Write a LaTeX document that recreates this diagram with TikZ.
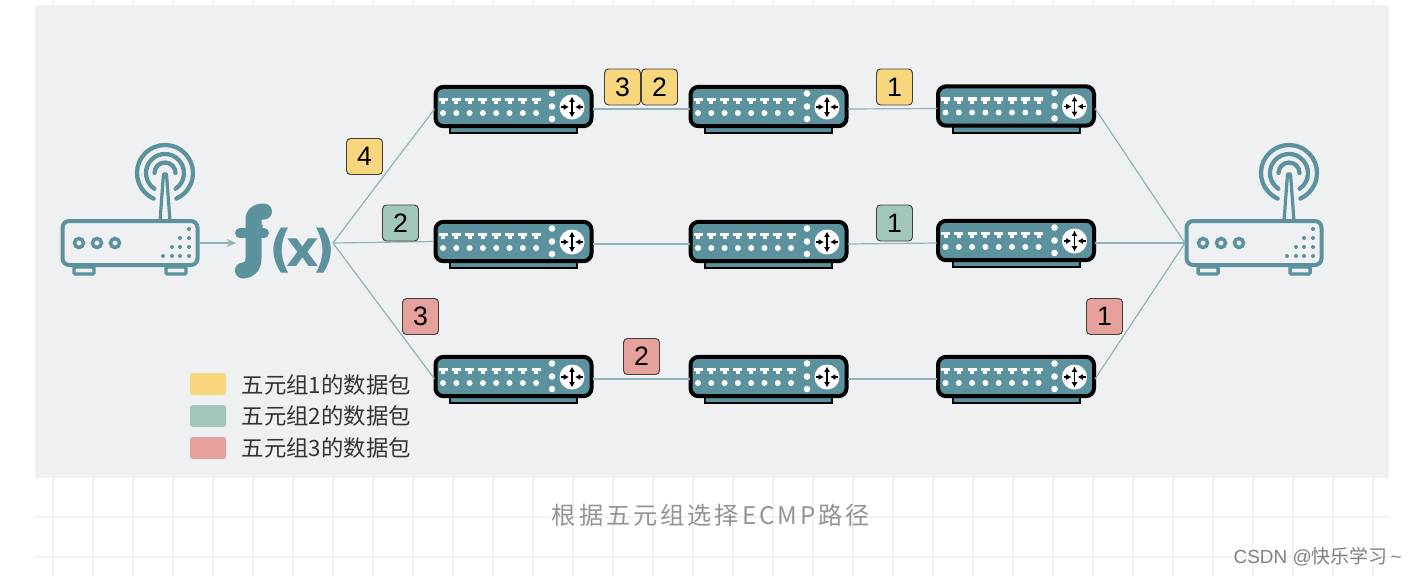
\documentclass[tikz,border=0pt]{standalone}
\usepackage{fontspec}
\setmainfont{Liberation Sans}
\newfontfamily\cjk{Noto Sans CJK SC}
\newfontfamily\fxfont{DejaVu Sans}
\usetikzlibrary{arrows.meta}
\definecolor{teal1}{HTML}{5B929E}
\definecolor{linec}{HTML}{8FB3BB}
\definecolor{bgc}{HTML}{EFF0F2}
\definecolor{gridc}{HTML}{F3F2F3}
\definecolor{pkty}{HTML}{F8D67E}
\definecolor{pktg}{HTML}{A3C6BC}
\definecolor{pktr}{HTML}{E6A19C}
\tikzset{
  x=0.75pt,y=-0.75pt,
  link/.style={draw=linec,line width=0.9pt},
  pkt/.style={draw=black!75,line width=0.7pt,rounded corners=3pt,minimum width=27pt,minimum height=27pt,inner sep=0pt,font=\fontsize{20}{20}\selectfont,text=black},
  swbody/.style={draw=black,line width=3pt,fill=teal1,rounded corners=6pt,minimum width=117pt,minimum height=29.5pt,inner sep=0pt},
  legtext/.style={anchor=west,inner sep=0pt,font=\cjk\fontsize{16.8}{18}\selectfont,text=black!80},
  swatch/.style={fill=#1,rounded corners=2pt,minimum width=27pt,minimum height=16.5pt,inner sep=0pt},
  routerbox/.style={draw=teal1,line width=3pt,fill=bgc,rounded corners=5pt,minimum width=101.25pt,minimum height=33pt,inner sep=0pt},
  fxtext/.style={text=teal1,inner sep=0pt},
  swhead/.style={black,line width=1.1pt},
  sw/.pic={
    \fill[black] (-64.5,20) rectangle (64.5,27.5);
    \fill[teal1] (-62.5,20) rectangle (62.5,25.5);
    \node[swbody] (-box) at (0,0) {};
    \coordinate (-w) at (-79,2.5);
    \coordinate (-e) at (79,2.5);
    \foreach \i in {0,...,7}{
      \fill[white] (-70.5+13.3*\i-4.5,-9) rectangle (-70.5+13.3*\i+4.5,-5.5);
      \fill[white] (-70.5+13.3*\i-2,-6) rectangle (-70.5+13.3*\i+2,-2.5);
      \fill[white] (-70.5+13.3*\i,6.5) circle[radius=3];
    }
    \foreach \yy in {-13,0,12.5}{\fill[white] (38.5,\yy) circle[radius=3.3];}
    \fill[white] (58.5,0.5) circle[radius=12.5];
    \draw[swhead,{Latex[length=4pt,width=4.5pt]}-{Latex[length=4pt,width=4.5pt]}] (58.5,-10) -- (58.5,11);
    \draw[swhead,-{Latex[length=4pt,width=4.5pt]}] (47.5,0.5) -- (55.5,0.5);
    \draw[swhead,-{Latex[length=4pt,width=4.5pt]}] (69.5,0.5) -- (61.5,0.5);
  },
  router/.pic={
    \draw[teal1,line width=2.6pt,rounded corners=1pt] (-56,24) rectangle (-36,31);
    \draw[teal1,line width=2.6pt,rounded corners=1pt] (36,24) rectangle (56,31);
    \draw[teal1,line width=2.4pt,line join=round] (30,-22) -- (33.5,-69) -- (36.5,-69) -- (40,-22);
    \node[routerbox] (-box) at (0,0) {};
    \foreach \xx in {-51,-33,-15}{\draw[teal1,line width=2.6pt] (\xx,0) circle[radius=4.5];}
    \foreach \xx/\yy in {33/13,42/13,50/13,59/13,42/4,50/4,59/4,50/-5,59/-5,59/-14}{\fill[teal1] (\xx,\yy) circle[radius=2];}
    \draw[teal1,line width=3.2pt,line cap=round] (35,-70) ++(114:28) arc[start angle=114,end angle=426,radius=28];
    \draw[teal1,line width=3.2pt,line cap=round] (35,-70) ++(124:19) arc[start angle=124,end angle=416,radius=19];
    \draw[teal1,line width=3.2pt,line cap=round] (35,-70) ++(180:10.5) arc[start angle=180,end angle=360,radius=10.5];
  }
}
\begin{document}
\begin{tikzpicture}
\useasboundingbox (0,0) rectangle (1416,576);
\fill[white] (0,0) rectangle (1416,576);
% grid
\foreach \xx in {53,93,...,1373}{\draw[gridc,line width=1pt] (\xx,0) -- (\xx,576);}
\foreach \yy in {477,517,557}{\draw[gridc,line width=1pt] (35,\yy) -- (1389,\yy);}
\fill[bgc] (35,5) rectangle (1389,478);
% devices
\pic (r1) at (130,243) {router};
\pic (r2) at (1254,243) {router};
\pic (a1) at (513.5,106.5) {sw};
\pic (a2) at (768.5,106.5) {sw};
\pic (a3) at (1016,106) {sw};
\pic (b1) at (513.5,241.5) {sw};
\pic (b2) at (768.5,241.5) {sw};
\pic (b3) at (1016,240.5) {sw};
\pic (c1) at (513.5,376.5) {sw};
\pic (c2) at (768.5,376.5) {sw};
\pic (c3) at (1016,376.5) {sw};
% f(x): the glyph, thickened to the reference's hooked outline
\draw[teal1,line width=12pt,line cap=round,line join=round] (264,211.5) .. controls (258,211.5) and (253.5,213) .. (253.5,220) -- (253.5,258) .. controls (253.5,266) and (250,270) .. (243,270.5);
\draw[teal1,line width=7.5pt,line cap=round] (240,233) -- (264,233);
\node[fxtext,font=\fxfont\bfseries\fontsize{30}{30}\selectfont] (ff) at (254,240) {f};
\node[fxtext,font=\fxfont\bfseries\fontsize{38}{38}\selectfont] (xx) at (302.5,251) {(\kern-5pt x\kern-5pt)};
\coordinate (fxin) at (236,243);
\coordinate (fxout) at (333,243);
\coordinate (rin) at (1185,243);
\draw[link,-{Stealth[length=7pt,width=6pt]}] (r1-box.east) -- (fxin);
\draw[link] (fxout) -- (a1-w);
\draw[link] (fxout) -- (b1-box.west);
\draw[link] (fxout) -- (c1-w);
\draw[link] (a1-e) -- (a2-w);
\draw[link] (a2-e) -- (a3-w);
\draw[link] (b1-e) -- (b2-w);
\draw[link] (b2-e) -- (b3-w);
\draw[link] (c1-e) -- (c2-w);
\draw[link] (c2-e) -- (c3-w);
\draw[link] (a3-e) -- (rin);
\draw[link] (b3-e) -- (rin);
\draw[link] (c3-e) -- (rin);
% packets
\node[pkt,fill=pkty] (p4) at (364.5,156.5) {4};
\node[pkt,fill=pkty] (p3) at (622.5,87) {3};
\node[pkt,fill=pkty] (p2) at (659.5,87) {2};
\node[pkt,fill=pkty] (p1) at (894.5,87) {1};
\node[pkt,fill=pktg] (q2) at (400.5,223) {2};
\node[pkt,fill=pktg] (q1) at (894.5,223) {1};
\node[pkt,fill=pktr] (s3) at (420.5,316.5) {3};
\node[pkt,fill=pktr] (s2) at (641.5,356.5) {2};
\node[pkt,fill=pktr] (s1) at (1104.5,316.5) {1};
% legend
\node[swatch=pkty] (l1) at (208,384) {};
\node[swatch=pktg] (l2) at (208,416) {};
\node[swatch=pktr] (l3) at (208,448) {};
\node[legtext] (t1) at (241.5,385) {五元组1的数据包};
\node[legtext] (t2) at (241.5,416) {五元组2的数据包};
\node[legtext] (t3) at (241.5,448) {五元组3的数据包};
% caption
\node[inner sep=0pt,text=black!42,font=\fontsize{18.2}{20}\selectfont] (cap) at (711,515) {\cjk\addfontfeature{LetterSpace=12}根据五元组选择ECMP路径};
\node[inner sep=0pt,anchor=east,text=black!50,font=\fontsize{14.2}{16}\selectfont] (wm) at (1402,557) {CSDN @\cjk 快乐学习\,\rmfamily\char126};
\end{tikzpicture}
\end{document}
